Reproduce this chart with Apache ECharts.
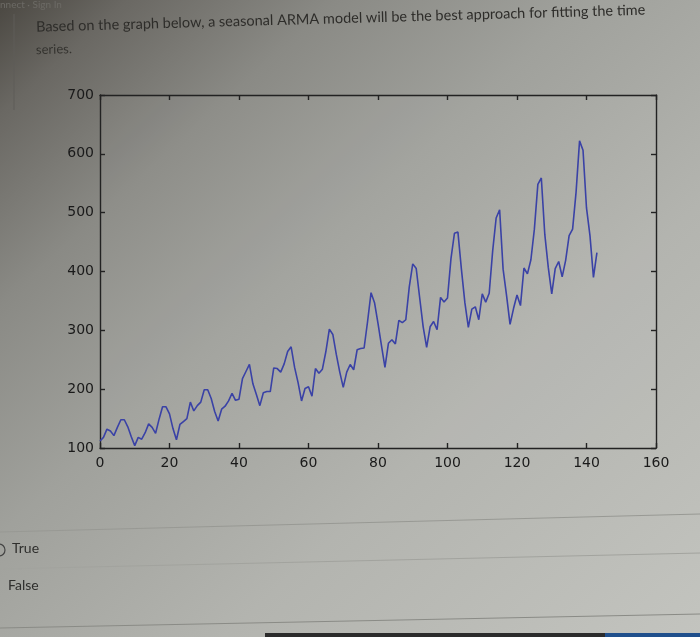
<!DOCTYPE html>
<html>
<head>
<meta charset="utf-8">
<script src="https://cdn.jsdelivr.net/npm/echarts@6/dist/echarts.min.js"></script>
<style>
  html, body { margin: 0; padding: 0; }
  body {
    width: 700px; height: 637px; overflow: hidden;
    background: linear-gradient(to bottom right, #4a4741 0%, #6a6863 9%, #8a8a85 24%, #a0a19c 42%, #b3b4af 66%, #c3c4bf 100%);
  }
  #chart { width: 700px; height: 637px; }
</style>
</head>
<body>
<div id="chart"></div>
<script>
// Monthly values read from the plotted series (index 0 .. 143)
const passengers = [
  112,118,132,129,121,135,148,148,136,119,104,118,
  115,126,141,135,125,149,170,170,158,133,114,140,
  145,150,178,163,172,178,199,199,184,162,146,166,
  171,180,193,181,183,218,230,242,209,191,172,194,
  196,196,236,235,229,243,264,272,237,211,180,201,
  204,188,235,227,234,264,302,293,259,229,203,229,
  242,233,267,269,270,315,364,347,312,274,237,278,
  284,277,317,313,318,374,413,405,355,306,271,306,
  315,301,356,348,355,422,465,467,404,347,305,336,
  340,318,362,348,363,435,491,505,404,359,310,337,
  360,342,406,396,420,472,548,559,463,407,362,405,
  417,391,419,461,472,535,622,606,508,461,390,432
];
const xTicks = [0, 20, 40, 60, 80, 100, 120, 140, 160];
const yTicks = [100, 200, 300, 400, 500, 600, 700];
const questionLine1 = "Based on the graph below, a seasonal ARMA model will be the best approach for fitting the time";
const questionLine2 = "series.";
const options = ["True", "False"];

const seriesData = passengers.map((v, i) => [i, v]);

const chart = echarts.init(document.getElementById('chart'), null, { renderer: 'canvas' });

const axisText = { fontFamily: 'DejaVu Sans', fontSize: 14, color: '#1a1a1a' };
const axisLineStyle = { color: '#222222', width: 1.4 };

chart.setOption({
  backgroundColor: 'transparent',
  animation: false,
  grid: {
    left: 100, top: 95, width: 556, height: 353,
    show: true, backgroundColor: 'rgba(255,255,255,0.04)', borderWidth: 0
  },
  xAxis: [
    {
      type: 'value', min: xTicks[0], max: xTicks[xTicks.length - 1], interval: 20,
      position: 'bottom',
      axisLine: { show: true, onZero: false, lineStyle: axisLineStyle },
      axisTick: { show: true, inside: true, length: 5, lineStyle: axisLineStyle },
      axisLabel: Object.assign({ margin: 8 }, axisText),
      splitLine: { show: false }
    },
    {
      type: 'value', min: xTicks[0], max: xTicks[xTicks.length - 1], interval: 20,
      position: 'top',
      axisLine: { show: true, onZero: false, lineStyle: axisLineStyle },
      axisTick: { show: true, inside: true, length: 5, lineStyle: axisLineStyle },
      axisLabel: { show: false },
      splitLine: { show: false }
    }
  ],
  yAxis: [
    {
      type: 'value', min: yTicks[0], max: yTicks[yTicks.length - 1], interval: 100,
      position: 'left',
      axisLine: { show: true, onZero: false, lineStyle: axisLineStyle },
      axisTick: { show: true, inside: true, length: 5, lineStyle: axisLineStyle },
      axisLabel: Object.assign({ margin: 6 }, axisText),
      splitLine: { show: false }
    },
    {
      type: 'value', min: yTicks[0], max: yTicks[yTicks.length - 1], interval: 100,
      position: 'right',
      axisLine: { show: true, onZero: false, lineStyle: axisLineStyle },
      axisTick: { show: true, inside: true, length: 5, lineStyle: axisLineStyle },
      axisLabel: { show: false },
      splitLine: { show: false }
    }
  ],
  series: [{
    type: 'line',
    data: seriesData,
    xAxisIndex: 0, yAxisIndex: 0,
    showSymbol: false,
    lineStyle: { color: '#3a42a6', width: 1.6 }
  }],
  graphic: [
    { type: 'text', left: 0, top: 0, style: { text: 'nnect · Sign In', fontFamily: 'Lato', fontSize: 10, fill: '#6c6a65' } },
    { type: 'line', shape: { x1: 14, y1: 14, x2: 14, y2: 110 }, style: { stroke: '#5f5d58', lineWidth: 1 } },
    { type: 'text', x: 36, y: 27, rotation: 0.028, style: { text: questionLine1, fontFamily: 'Lato', fontSize: 14.5, fill: '#2e2d2a', verticalAlign: 'middle' } },
    { type: 'text', x: 36, y: 50, rotation: 0.028, style: { text: questionLine2, fontFamily: 'Lato', fontSize: 13, fill: '#34332f', verticalAlign: 'middle' } },
    { type: 'line', shape: { x1: 0, y1: 532, x2: 700, y2: 514 }, style: { stroke: '#989994', lineWidth: 1 } },
    { type: 'line', shape: { x1: 0, y1: 569, x2: 700, y2: 553 }, style: { stroke: '#a2a39e', lineWidth: 1 } },
    { type: 'line', shape: { x1: 0, y1: 628, x2: 700, y2: 614 }, style: { stroke: '#8a8b86', lineWidth: 1.2 } },
    { type: 'circle', shape: { cx: -1, cy: 550, r: 6 }, style: { fill: 'none', stroke: '#444', lineWidth: 1.2 } },
    { type: 'text', left: 12, top: 541, style: { text: options[0], fontFamily: 'Lato', fontSize: 14, fill: '#2f2f2d' } },
    { type: 'text', left: 8, top: 578, style: { text: options[1], fontFamily: 'Lato', fontSize: 14, fill: '#2f2f2d' } },
    { type: 'rect', shape: { x: 265, y: 633, width: 340, height: 4 }, style: { fill: '#2b2b2b' } },
    { type: 'rect', shape: { x: 605, y: 633, width: 95, height: 4 }, style: { fill: '#1f4f8c' } }
  ]
});
</script>
</body>
</html>
